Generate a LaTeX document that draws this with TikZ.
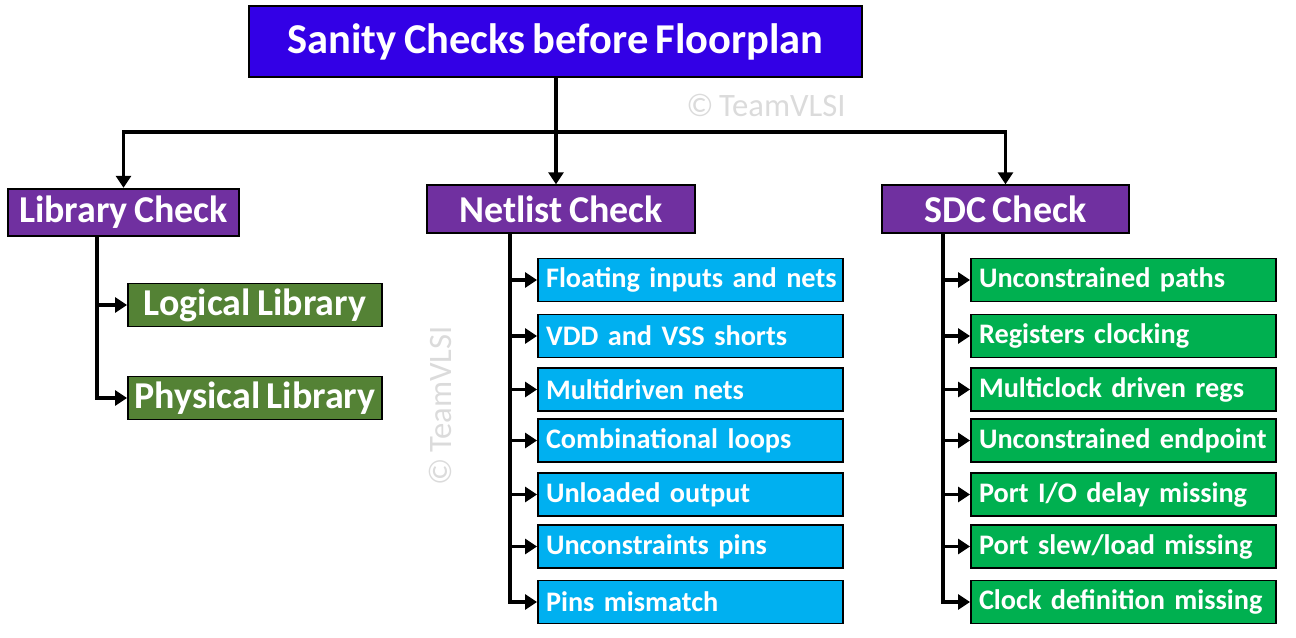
\documentclass[tikz,border=0pt]{standalone}
\usepackage{fontspec}
\setmainfont{Carlito}[WordSpace=0.75]
\usepackage{tikz}
\usetikzlibrary{arrows.meta,positioning}

\definecolor{titleblue}{RGB}{51,0,230}
\definecolor{checkpurple}{RGB}{112,48,160}
\definecolor{libgreen}{RGB}{84,130,53}
\definecolor{netcyan}{RGB}{0,176,240}
\definecolor{sdcgreen}{RGB}{0,176,80}

\begin{document}
\begin{tikzpicture}[
    x=0.02cm, y=-0.02cm,
    box/.style={draw=black, line width=1.1pt, text=white, font=\bfseries, inner sep=0pt},
    titlebox/.style={box, fill=titleblue, minimum width=12.26cm, minimum height=1.42cm, font=\bfseries\fontsize{24.2}{28}\selectfont},
    check/.style={box, fill=checkpurple, minimum height=0.95cm, font=\bfseries\fontsize{21.6}{25}\selectfont},
    lib/.style={box, fill=libgreen, minimum width=5.08cm, minimum height=0.86cm, font=\bfseries\fontsize{21.6}{25}\selectfont},
    item/.style={box, minimum width=6.1cm, minimum height=0.86cm, text width=5.78cm, align=left,
      font=\bfseries\fontsize{16.1}{19}\selectfont,
      execute at begin node={\hbox\bgroup}, execute at end node={\egroup}},
    net/.style={item, fill=netcyan},
    sdc/.style={item, fill=sdcgreen},
    line/.style={line width=2.2pt, black},
    arrow/.style={line, -{Triangle[length=0.24cm, width=0.3cm]}},
    watermark/.style={text=gray!28, font=\fontsize{18.6}{22}\selectfont}
  ]
    \useasboundingbox (0,0) rectangle (1296,637);

    \node[titlebox] (title) at (555.5,41.5) {Sanity Checks before Floorplan};
    \node[watermark] (wm1) at (766,105) {© TeamVLSI};
    \node[watermark, rotate=90] (wm2) at (440,406) {© TeamVLSI};

    \node[check, minimum width=4.62cm] (libchk) at (123.5,212.5) {Library Check};
    \node[check, minimum width=5.36cm] (netchk) at (561,209) {Netlist Check};
    \node[check, minimum width=4.94cm] (sdcchk) at (1005.5,209) {SDC Check};

    \node[lib] (logical) at (255,305) {Logical Library};
    \node[lib] (physical) at (255,398) {Physical Library};

    \node[net] (floating) at (690.5,280) {Floating inputs and nets};
    \node[net] (shorts) at (690.5,336) {VDD and VSS shorts};
    \node[net] (multidrv) at (690.5,389.5) {Multidriven nets};
    \node[net] (comb) at (690.5,440.5) {Combinational loops};
    \node[net] (unloaded) at (690.5,494.5) {Unloaded output};
    \node[net] (pins) at (690.5,546.5) {Unconstraints pins};
    \node[net] (mismatch) at (690.5,602) {Pins mismatch};

    \node[sdc] (paths) at (1123.5,280) {Unconstrained paths};
    \node[sdc] (regclk) at (1123.5,336) {Registers clocking};
    \node[sdc] (multiclk) at (1123.5,389.5) {Multiclock driven regs};
    \node[sdc] (endpoint) at (1123.5,440.5) {Unconstrained endpoint};
    \node[sdc] (iodelay) at (1123.5,494.5) {Port I/O delay missing};
    \node[sdc] (slew) at (1123.5,546.5) {Port slew/load missing};
    \node[sdc] (clkdef) at (1123.5,602) {Clock definition missing};

    % top level split
    \coordinate (hub) at (556,132);
    \coordinate (libbus) at (97,0);
    \coordinate (netbus) at (510,0);
    \coordinate (sdcbus) at (943,0);
    \draw[line] (title.south -| hub) -- (hub);
    \draw[arrow] (hub) -| (libchk.north);
    \draw[arrow] (hub) -- (hub |- netchk.north);
    \draw[arrow] (hub) -| (sdcchk.north);

    % library branch
    \draw[arrow] (libbus |- libchk.south) |- (physical.west);
    \draw[arrow] (libbus |- logical.west) -- (logical.west);

    % netlist branch
    \draw[arrow] (netbus |- netchk.south) |- (mismatch.west);
    \draw[arrow] (netbus |- floating.west) -- (floating.west);
    \draw[arrow] (netbus |- shorts.west) -- (shorts.west);
    \draw[arrow] (netbus |- multidrv.west) -- (multidrv.west);
    \draw[arrow] (netbus |- comb.west) -- (comb.west);
    \draw[arrow] (netbus |- unloaded.west) -- (unloaded.west);
    \draw[arrow] (netbus |- pins.west) -- (pins.west);

    % sdc branch
    \draw[arrow] (sdcbus |- sdcchk.south) |- (clkdef.west);
    \draw[arrow] (sdcbus |- paths.west) -- (paths.west);
    \draw[arrow] (sdcbus |- regclk.west) -- (regclk.west);
    \draw[arrow] (sdcbus |- multiclk.west) -- (multiclk.west);
    \draw[arrow] (sdcbus |- endpoint.west) -- (endpoint.west);
    \draw[arrow] (sdcbus |- iodelay.west) -- (iodelay.west);
    \draw[arrow] (sdcbus |- slew.west) -- (slew.west);
  \end{tikzpicture}
\end{document}
